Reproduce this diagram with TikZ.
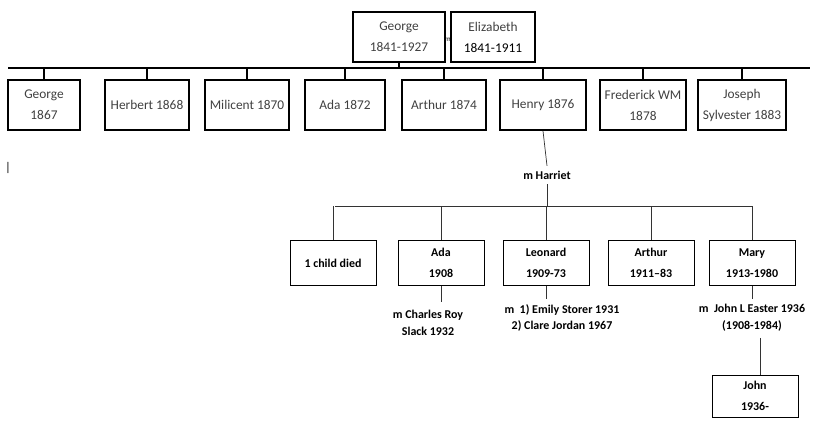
\documentclass[tikz,border=0pt]{standalone}
\usepackage{fontspec}
\setmainfont{Carlito}
\usetikzlibrary{positioning}
\tikzset{
  person/.style={draw,line width=1.3pt,minimum height=1.25cm,align=center,font=\fontsize{9.5}{15}\selectfont,text=black!75},
  kid/.style={draw,line width=0.5pt,minimum height=1.125cm,minimum width=2.15cm,align=center,font=\bfseries\fontsize{8.5}{15}\selectfont},
  note/.style={align=center,font=\bfseries\fontsize{8.5}{12}\selectfont},
  link/.style={line width=1.3pt},
  thin/.style={line width=0.5pt,black!80}
}
\begin{document}
\begin{tikzpicture}[x=0.025cm,y=-0.025cm]
  \useasboundingbox (0,0) rectangle (828,438);
  % parents
  \node[person,minimum width=2.3cm] (george) at (399,37) {George\\1841-1927};
  \node[person,minimum width=2.08cm,text=black] (eliz) at (493,37) {\textcolor{black!75}{Elizabeth}\\1841-1911};
  \node[font=\tiny] (m0) at (448,40) {m};
  \coordinate (bar) at (399,68);
  \draw[link] (george.south) -- (bar);
  \draw[link] (8,68) -- (810,68);
  % children
  \foreach \nm/\cx/\w/\txt in {c1/44/1.8/George\\1867, c2/147/2.1/Herbert 1868, c3/247/2.1/Milicent 1870,
      c4/345/2.0/Ada 1872, c5/444/2.1/Arthur 1874, c6/543/2.15/Henry 1876,
      c7/643/2.15/Frederick WM\\1878, c8/742/2.0/Joseph\\Sylvester 1883}{
    \node[person,minimum width=\w cm] (\nm) at (\cx,105) {\txt};
    \draw[link] (\nm.north) -- (\cx,68);
  }
  \node[font=\small] (tick) at (8,168) {|};
  % Henry's family
  \node[note] (harriet) at (547,175) {m Harriet};
  \draw[thin] (c6.south) -- (harriet.north);
  \coordinate (hbar) at (547,206);
  \draw[thin] (harriet.south) -- (hbar);
  \draw[thin] (335,206) -- (752,206);
  \foreach \nm/\cx/\txt in {g1/333/1 child died, g2/441/Ada\\1908, g3/546/Leonard\\1909-73,
      g4/651/Arthur\\1911--83, g5/752/Mary\\1913-1980}{
    \node[kid,anchor=north] (\nm) at (\cx,240) {\txt};
    \draw[thin] (\nm.north) -- (\cx,206);
  }
  \node[note] (ada) at (428,323) {m Charles Roy\\Slack 1932};
  \draw[thin] (g2.south) -- (441,302);
  \node[note] (leo) at (562,318) {m\ \ 1) Emily Storer 1931\\2) Clare Jordan 1967};
  \draw[thin] (g3.south) -- (leo.north -| g3.south);
  \node[note] (mary) at (752,318) {m\ \ John L Easter 1936\\(1908-1984)};
  \draw[thin] (g5.south) -- (mary.north -| g5.south);
  \node[kid,minimum height=1.05cm] (john) at (755,396) {John\\1936-};
  \draw[thin] (760,338) -- (john.north -| 760,0);
\end{tikzpicture}
\end{document}
